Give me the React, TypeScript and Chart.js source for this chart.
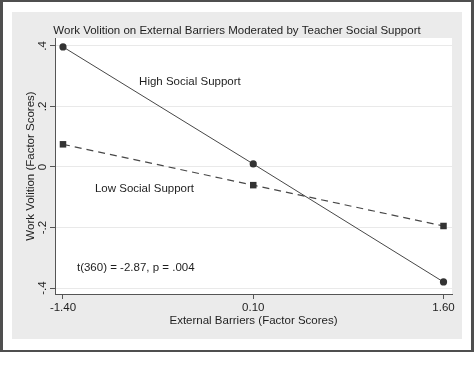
import { useEffect, useRef } from "react";
import { Chart, registerables } from "chart.js";

Chart.register(...registerables);

const chartTitle = "Work Volition on External Barriers Moderated by Teacher Social Support";
const xTitle = "External Barriers (Factor Scores)";
const yTitle = "Work Volition (Factor Scores)";

const xValues = [-1.4, 0.1, 1.6];
const xTickValues = [-1.4, 0.1, 1.6];
const xTickLabels = ["-1.40", "0.10", "1.60"];
const yTickValues = [-0.4, -0.2, 0, 0.2, 0.4];
const yTickLabels = ["-.4", "-.2", "0", ".2", ".4"];

const highSupport = [0.397, 0.01, -0.38];
const lowSupport = [0.075, -0.06, -0.195];

const noteTexts = ["High Social Support", "Low Social Support", "t(360) = -2.87, p = .004"];
const noteX = [-0.8, -1.148, -1.29];
const noteY = [0.281, -0.073, -0.334];

const FONT = "'Liberation Sans', Arial, Helvetica, sans-serif";
const TEXT = "#1e1e1e";
const SIZE = 11.5;

const stataPlugin = {
  id: "stataText",
  beforeDraw(chart: any) {
    const { ctx, chartArea: a } = chart;
    ctx.save();
    ctx.fillStyle = "#ffffff";
    ctx.fillRect(a.left, a.top, a.right - a.left, a.bottom - a.top);
    ctx.restore();
  },
  afterDraw(chart: any) {
    const { ctx, chartArea: a } = chart;
    const xs = chart.scales.x;
    const ys = chart.scales.y;
    ctx.save();
    ctx.fillStyle = TEXT;
    ctx.font = `${SIZE}px ${FONT}`;
    ctx.textBaseline = "middle";
    ctx.textAlign = "center";
    ctx.fillText(chartTitle, chart.width / 2, 18.5);

    xTickValues.forEach((v, i) => {
      ctx.fillText(xTickLabels[i], xs.getPixelForValue(v), a.bottom + 13.5);
    });
    ctx.fillText(xTitle, (a.left + a.right) / 2, a.bottom + 27);

    yTickValues.forEach((v, i) => {
      ctx.save();
      ctx.translate(a.left - 12.5, ys.getPixelForValue(v));
      ctx.rotate(-Math.PI / 2);
      ctx.fillText(yTickLabels[i], 0, 0);
      ctx.restore();
    });
    ctx.save();
    ctx.translate(19, (a.top + a.bottom) / 2);
    ctx.rotate(-Math.PI / 2);
    ctx.fillText(yTitle, 0, 0);
    ctx.restore();

    ctx.textAlign = "left";
    noteTexts.forEach((t, i) => {
      ctx.fillText(t, xs.getPixelForValue(noteX[i]), ys.getPixelForValue(noteY[i]));
    });
    ctx.restore();
  },
};

export default function App() {
  const ref = useRef<HTMLCanvasElement | null>(null);

  useEffect(() => {
    if (!ref.current) return;
    const chart = new Chart(ref.current, {
      type: "scatter",
      data: {
        datasets: [
          {
            label: "High Social Support",
            data: xValues.map((x, i) => ({ x, y: highSupport[i] })),
            showLine: true,
            borderColor: "#474747",
            borderWidth: 1,
            pointStyle: "circle",
            pointRadius: 3.6,
            pointBackgroundColor: "#333333",
            pointBorderColor: "#333333",
            pointBorderWidth: 0,
            clip: false,
          },
          {
            label: "Low Social Support",
            data: xValues.map((x, i) => ({ x, y: lowSupport[i] })),
            showLine: true,
            borderColor: "#474747",
            borderWidth: 1.2,
            borderDash: [7, 5],
            pointStyle: "rect",
            pointRadius: 4.6,
            pointBackgroundColor: "#333333",
            pointBorderColor: "#333333",
            pointBorderWidth: 0,
            clip: false,
          },
        ],
      },
      options: {
        animation: false,
        responsive: false,
        devicePixelRatio: 1,
        layout: { padding: { left: 0, top: 26, right: 10, bottom: 0 } },
        plugins: {
          legend: { display: false },
          title: { display: false },
          tooltip: { enabled: false },
        },
        scales: {
          x: {
            type: "linear",
            min: -1.463,
            max: 1.667,
            afterBuildTicks: (s: any) => {
              s.ticks = xTickValues.map((v) => ({ value: v }));
            },
            afterFit: (s: any) => {
              s.height = 45;
            },
            ticks: { display: false },
            grid: {
              display: true,
              drawOnChartArea: false,
              drawTicks: true,
              tickLength: 5,
              tickColor: "#555555",
              tickWidth: 1,
            },
            border: { display: true, color: "#555555", width: 1 },
          },
          y: {
            type: "linear",
            min: -0.4198,
            max: 0.4264,
            afterBuildTicks: (s: any) => {
              s.ticks = yTickValues.map((v) => ({ value: v }));
            },
            afterFit: (s: any) => {
              s.width = 43;
            },
            ticks: { display: false },
            grid: {
              display: true,
              drawOnChartArea: true,
              drawTicks: true,
              tickLength: 5,
              color: "#e9e9e9",
              tickColor: "#555555",
              lineWidth: 1,
              tickWidth: 1,
            },
            border: { display: true, color: "#555555", width: 1 },
          },
        },
      },
      plugins: [stataPlugin],
    } as any);
    return () => chart.destroy();
  }, []);

  return (
    <div
      style={{
        position: "absolute",
        left: 0,
        top: 0,
        width: 474,
        height: 366,
        background: "#ffffff",
        overflow: "hidden",
      }}
    >
      <div
        style={{
          position: "absolute",
          left: 0,
          top: 0,
          width: 474,
          height: 352,
          boxSizing: "border-box",
          borderStyle: "solid",
          borderColor: "#4f4f4f",
          borderWidth: "2px 3px 2px 3px",
        }}
      />
      <div
        style={{
          position: "absolute",
          left: 12,
          top: 12,
          width: 450,
          height: 327,
          background: "#ebebeb",
        }}
      >
        <canvas ref={ref} width={450} height={327} style={{ display: "block" }} />
      </div>
    </div>
  );
}
